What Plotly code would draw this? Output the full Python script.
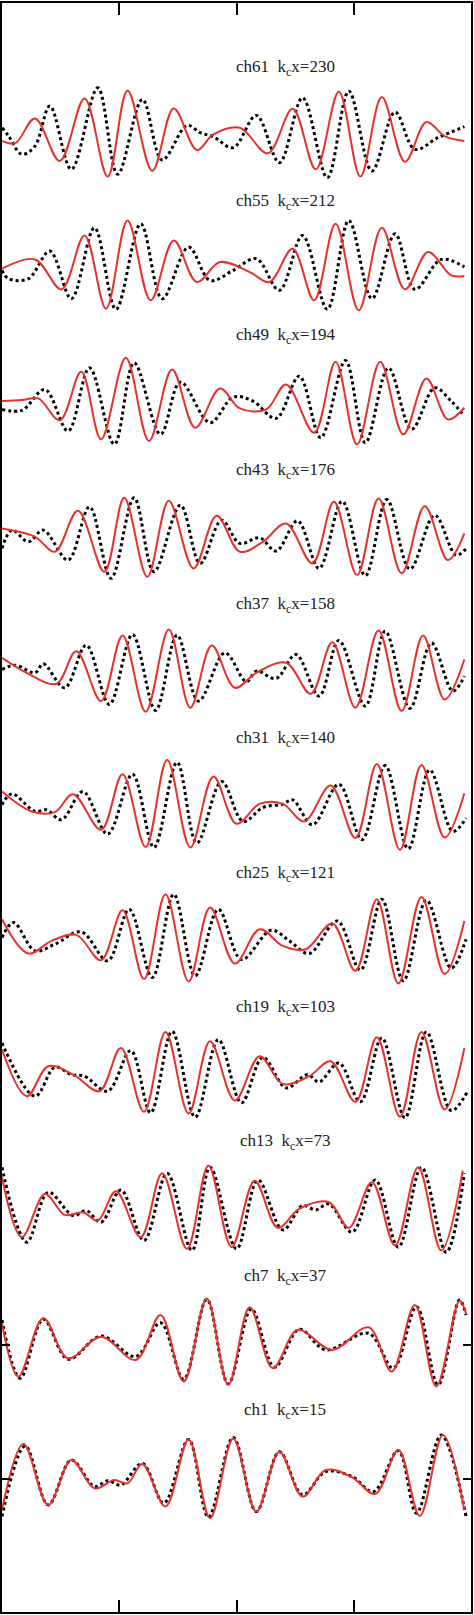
import plotly.graph_objects as go

# channel labels (top to bottom) and kc*x values
CHANNELS = ["ch61", "ch55", "ch49", "ch43", "ch37", "ch31", "ch25", "ch19", "ch13", "ch7", "ch1"]
KCX = [230, 212, 194, 176, 158, 140, 121, 103, 73, 37, 15]

# model (red) and measured (black dotted) traces: time samples and amplitudes
ch61_model_t = [0, 40, 100, 175, 250, 320, 380, 455, 520, 590, 640, 720, 805, 880, 950, 1020, 1085, 1150, 1220, 1285, 1340, 1400]
ch61_model_y = [-16, -23, 52, -76, 112, -123, 136, -106, 82, -43, 4, 24, -53, 81, -101, 132, -123, 116, -78, 41, -1, -16]
ch61_meas_t = [0, 20, 60, 100, 145, 210, 290, 350, 425, 485, 560, 600, 640, 700, 770, 840, 910, 985, 1050, 1120, 1190, 1250, 1320, 1400]
ch61_meas_y = [24, -1, -56, -31, 89, -101, 144, -116, 109, -73, 31, 9, -3, -36, 61, -81, 114, -126, 134, -106, 71, -41, -6, 27]

ch55_model_t = [0, 100, 180, 250, 315, 380, 450, 520, 590, 660, 750, 810, 880, 945, 1010, 1080, 1150, 1220, 1290, 1360, 1400]
ch55_model_y = [4, 32, -58, 104, -116, 149, -91, 89, -36, 24, -6, -36, 64, -91, 139, -121, 127, -58, 54, -16, -18]
ch55_meas_t = [0, 20, 80, 145, 210, 280, 345, 420, 485, 565, 630, 700, 770, 840, 910, 985, 1050, 1120, 1190, 1250, 1330, 1400]
ch55_meas_y = [-1, -26, -26, 57, -86, 127, -118, 139, -86, 69, -31, -1, 34, -61, 104, -118, 149, -86, 109, -58, 32, 9]

ch49_model_t = [0, 60, 110, 175, 240, 300, 375, 445, 515, 585, 660, 720, 800, 860, 945, 1010, 1075, 1145, 1215, 1285, 1350, 1400]
ch49_model_y = [10, 13, 18, -48, 98, -105, 140, -110, 105, -70, 48, -12, -15, 60, -85, 128, -120, 128, -90, 78, -45, -10]
ch49_meas_t = [0, 60, 130, 200, 265, 340, 400, 480, 540, 630, 700, 760, 830, 900, 965, 1040, 1100, 1170, 1240, 1310, 1360, 1400]
ch49_meas_y = [-15, -18, 45, -80, 110, -120, 125, -90, 67, -55, 22, 10, -42, 85, -100, 132, -115, 110, -75, 50, 10, -35]

ch43_model_t = [0, 100, 160, 230, 310, 370, 440, 505, 580, 650, 720, 790, 860, 940, 1005, 1075, 1140, 1210, 1280, 1350, 1400]
ch43_model_y = [31, 6, -39, 84, -99, 123, -114, 114, -89, 69, -39, -9, 46, -74, 111, -109, 121, -104, 98, -64, 16]
ch43_meas_t = [0, 30, 80, 125, 200, 265, 330, 400, 460, 540, 600, 665, 720, 780, 830, 895, 960, 1030, 1100, 1165, 1235, 1310, 1375, 1410]
ch43_meas_y = [-29, 26, -9, 26, -64, 96, -119, 123, -99, 101, -74, 56, -14, 3, -37, 54, -89, 113, -111, 118, -91, 71, -49, -24]

ch37_model_t = [0, 80, 165, 225, 300, 365, 435, 505, 570, 635, 705, 770, 860, 935, 1000, 1070, 1140, 1210, 1275, 1340, 1400]
ch37_model_y = [46, -2, -32, 66, -84, 113, -116, 131, -104, 83, -44, 1, 31, -62, 93, -104, 128, -114, 113, -79, 41]
ch37_meas_t = [0, 40, 100, 125, 190, 255, 325, 395, 465, 530, 595, 675, 740, 770, 830, 890, 960, 1020, 1100, 1160, 1235, 1300, 1365, 1400]
ch37_meas_y = [11, 24, 1, 28, -44, 84, -94, 116, -112, 114, -84, 61, -26, 6, -16, 56, -69, 98, -99, 126, -106, 91, -54, -9]

ch31_model_t = [0, 90, 160, 215, 300, 365, 435, 500, 570, 640, 710, 780, 850, 915, 995, 1070, 1135, 1205, 1270, 1340, 1400]
ch31_model_y = [48, -12, -14, 40, -67, 100, -119, 143, -120, 93, -49, 11, 11, -42, 66, -92, 131, -127, 128, -90, 43]
ch31_meas_t = [0, 30, 100, 135, 180, 245, 320, 395, 460, 530, 590, 665, 730, 790, 850, 880, 940, 1020, 1090, 1160, 1230, 1295, 1365, 1405]
ch31_meas_y = [8, 41, -12, -7, -37, 48, -80, 100, -120, 136, -107, 78, -42, 0, 10, 23, -52, 70, -97, 126, -124, 113, -72, -32]

ch25_model_t = [0, 80, 150, 225, 300, 365, 430, 495, 565, 630, 705, 780, 850, 920, 1000, 1070, 1135, 1200, 1270, 1340, 1400]
ch25_model_y = [68, -35, 3, 21, -55, 95, -112, 143, -119, 103, -65, 38, -12, -22, 55, -87, 128, -125, 135, -97, 63]
ch25_meas_t = [0, 35, 100, 160, 240, 320, 385, 455, 520, 585, 655, 725, 815, 870, 930, 1015, 1085, 1150, 1215, 1285, 1360, 1405]
ch25_meas_y = [13, 58, -27, -7, 30, -57, 98, -107, 143, -102, 98, -53, 35, 3, -35, 63, -85, 128, -117, 125, -79, 8]

ch19_model_t = [0, 75, 140, 220, 295, 360, 430, 495, 565, 630, 705, 780, 850, 930, 995, 1070, 1135, 1205, 1270, 1340, 1400]
ch19_model_y = [80, -60, 30, 2, -45, 85, -107, 133, -112, 105, -73, 60, -23, 0, 45, -77, 117, -122, 133, -100, 85]
ch19_meas_t = [0, 100, 160, 210, 250, 320, 390, 450, 515, 585, 655, 725, 790, 860, 925, 960, 1020, 1085, 1150, 1220, 1285, 1360, 1410]
ch19_meas_y = [100, -60, 27, 5, 0, -45, 77, -110, 135, -123, 110, -80, 57, -35, 5, -17, 40, -77, 115, -125, 133, -103, -45]

ch13_model_t = [0, 60, 130, 190, 245, 290, 345, 420, 485, 560, 625, 695, 765, 835, 900, 990, 1050, 1120, 1190, 1260, 1330, 1395]
ch13_model_y = [100, -80, 50, -13, -5, -30, 58, -80, 112, -115, 135, -110, 90, -52, 5, 25, -52, 85, -105, 130, -120, 120]
ch13_meas_t = [0, 75, 140, 215, 255, 300, 360, 430, 500, 575, 630, 710, 775, 850, 910, 950, 990, 1060, 1130, 1200, 1270, 1345, 1400]
ch13_meas_y = [130, -95, 55, -15, 0, -35, 62, -90, 112, -120, 130, -115, 92, -58, 15, 2, 20, -65, 92, -110, 130, -125, 112]

ch7_model_t = [0, 50, 125, 200, 300, 405, 480, 550, 620, 685, 750, 820, 895, 1000, 1110, 1180, 1250, 1315, 1385, 1405]
ch7_model_y = [65, -95, 80, -40, 25, -45, 90, -110, 140, -120, 113, -70, 45, -15, 53, -80, 120, -125, 133, 95]
ch7_meas_t = [0, 55, 125, 200, 300, 405, 480, 550, 620, 685, 755, 825, 900, 980, 1110, 1185, 1255, 1320, 1385, 1405]
ch7_meas_y = [75, -100, 77, -43, 27, -35, 67, -103, 137, -117, 108, -67, 47, -15, 35, -70, 115, -120, 135, 90]

ch1_model_t = [0, 65, 140, 210, 280, 340, 380, 425, 495, 565, 630, 700, 770, 840, 910, 980, 1060, 1130, 1200, 1265, 1335, 1400]
ch1_model_y = [-92, 106, -77, 58, -27, -2, -12, 46, -82, 120, -117, 123, -97, 83, -52, 28, 6, -44, 88, -110, 133, -92]
ch1_meas_t = [0, 70, 140, 210, 280, 320, 360, 425, 490, 565, 625, 700, 770, 840, 910, 980, 1060, 1125, 1200, 1255, 1330, 1405]
ch1_meas_y = [-112, 100, -77, 58, -22, -4, -17, 48, -72, 120, -114, 126, -97, 83, -47, 23, 8, -37, 86, -102, 133, -112]

MODEL = [
    (ch61_model_t, ch61_model_y), (ch55_model_t, ch55_model_y), (ch49_model_t, ch49_model_y),
    (ch43_model_t, ch43_model_y), (ch37_model_t, ch37_model_y), (ch31_model_t, ch31_model_y),
    (ch25_model_t, ch25_model_y), (ch19_model_t, ch19_model_y), (ch13_model_t, ch13_model_y),
    (ch7_model_t, ch7_model_y), (ch1_model_t, ch1_model_y),
]
MEAS = [
    (ch61_meas_t, ch61_meas_y), (ch55_meas_t, ch55_meas_y), (ch49_meas_t, ch49_meas_y),
    (ch43_meas_t, ch43_meas_y), (ch37_meas_t, ch37_meas_y), (ch31_meas_t, ch31_meas_y),
    (ch25_meas_t, ch25_meas_y), (ch19_meas_t, ch19_meas_y), (ch13_meas_t, ch13_meas_y),
    (ch7_meas_t, ch7_meas_y), (ch1_meas_t, ch1_meas_y),
]

SPACING = 404
n = len(CHANNELS)

fig = go.Figure()
for i in range(n):
    off = SPACING * (n - 1 - i)
    t, y = MEAS[i]
    fig.add_trace(go.Scatter(
        x=t, y=[v + off for v in y], mode="lines", line_shape="spline",
        line=dict(color="black", width=3, dash="dot"), showlegend=False,
    ))
    t, y = MODEL[i]
    fig.add_trace(go.Scatter(
        x=t, y=[v + off for v in y], mode="lines", line_shape="spline",
        line=dict(color="#e5322d", width=2), showlegend=False,
    ))
    fig.add_annotation(
        x=858, y=off + 205, xref="x", yref="y", showarrow=False,
        text=f"{CHANNELS[i]}  k<sub>c</sub>x={KCX[i]}",
        font=dict(family="Liberation Serif", size=17, color="#222"),
    )

fig.update_layout(
    width=474, height=1615,
    margin=dict(l=2, r=2, t=1, b=3),
    plot_bgcolor="white", paper_bgcolor="white",
)
fig.update_xaxes(
    range=[0, 1420], showgrid=False, zeroline=False,
    showline=True, linecolor="black", linewidth=2, mirror="ticks",
    ticks="inside", ticklen=12, tickcolor="black", tickwidth=1.5,
    tickvals=[355, 710, 1065], showticklabels=False,
)
fig.update_yaxes(
    range=[-399, SPACING * (n - 1) + 399], showgrid=False, zeroline=False,
    showline=True, linecolor="black", linewidth=2, mirror="ticks",
    ticks="inside", ticklen=8, tickcolor="black", tickwidth=1.5,
    tickvals=[0, SPACING], showticklabels=False,
)

fig.write_html("out.html", config={"displayModeBar": False},
               post_script="document.body.style.margin='0';")
